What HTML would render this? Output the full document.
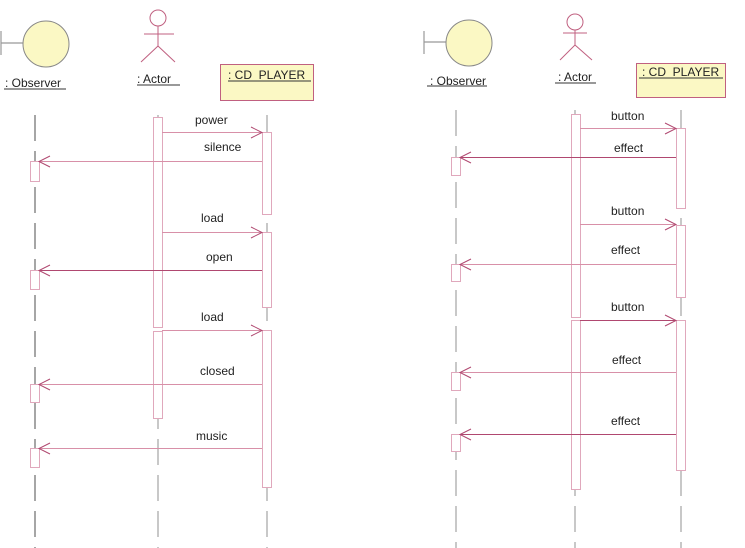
<!DOCTYPE html>
<html><head><style>body{margin:0;background:#fff}svg{display:block}text{font-family:"Liberation Sans",sans-serif;font-size:12px;fill:#222}</style></head><body>
<svg width="745" height="548" viewBox="0 0 745 548">
<g stroke-dasharray="26,10" stroke-width="1.3">
<line x1="35" y1="115" x2="35" y2="548" stroke="#777"/>
<line x1="158" y1="115" x2="158" y2="548" stroke="#aaa"/>
<line x1="267" y1="115" x2="267" y2="548" stroke="#aaa"/>
<line x1="456" y1="110" x2="456" y2="548" stroke="#aaa"/>
<line x1="575" y1="110" x2="575" y2="548" stroke="#aaa"/>
<line x1="681" y1="110" x2="681" y2="548" stroke="#aaa"/>
</g>
<!-- left heads -->
<line x1="1" y1="43" x2="24" y2="43" stroke="#999" stroke-width="1.2"/><line x1="1" y1="31" x2="1" y2="55" stroke="#999" stroke-width="1.2"/>
<circle cx="46" cy="44" r="23" fill="#fbf8c4" stroke="#888"/>
<text x="5" y="87">: Observer</text><line x1="4" y1="89" x2="66" y2="89" stroke="#333"/>
<g stroke="#c06080" fill="none"><circle cx="158" cy="18" r="8"/><line x1="144" y1="34" x2="174" y2="34"/><line x1="158" y1="26" x2="158" y2="46"/><line x1="158" y1="46" x2="141" y2="62"/><line x1="158" y1="46" x2="175" y2="62"/></g>
<text x="137" y="83">: Actor</text><line x1="137" y1="85" x2="180" y2="85" stroke="#333"/>
<rect x="220.5" y="64.5" width="93" height="36" fill="#fbf8c4" stroke="#c06080"/>
<text x="228" y="79">: CD_PLAYER</text><line x1="228" y1="81" x2="311" y2="81" stroke="#333"/>
<!-- right heads -->
<line x1="424" y1="42" x2="446" y2="42" stroke="#999" stroke-width="1.2"/><line x1="424" y1="31" x2="424" y2="54" stroke="#999" stroke-width="1.2"/>
<circle cx="469" cy="43" r="23" fill="#fbf8c4" stroke="#888"/>
<text x="430" y="85">: Observer</text><line x1="427" y1="86" x2="487" y2="86" stroke="#333"/>
<g stroke="#c06080" fill="none"><circle cx="575" cy="22" r="8"/><line x1="563" y1="33" x2="587" y2="33"/><line x1="575" y1="30" x2="575" y2="45"/><line x1="575" y1="45" x2="560" y2="60"/><line x1="575" y1="45" x2="592" y2="60"/></g>
<text x="558" y="81">: Actor</text><line x1="555" y1="83" x2="596" y2="83" stroke="#333"/>
<rect x="636.5" y="63.5" width="89" height="34" fill="#fbf8c4" stroke="#c06080"/>
<text x="642" y="76">: CD_PLAYER</text><line x1="639" y1="78" x2="723" y2="78" stroke="#333"/>
<!-- activations -->
<g fill="#fff" stroke="#e0a8bc">
<rect x="153.5" y="117.5" width="9" height="210"/><rect x="153.5" y="331.5" width="9" height="87"/>
<rect x="262.5" y="132.5" width="9" height="82"/><rect x="262.5" y="232.5" width="9" height="75"/><rect x="262.5" y="330.5" width="9" height="157"/>
<rect x="30.5" y="161.5" width="9" height="20"/><rect x="30.5" y="270.5" width="9" height="19"/><rect x="30.5" y="384.5" width="9" height="18"/><rect x="30.5" y="448.5" width="9" height="19"/>
<rect x="571.5" y="114.5" width="9" height="203"/><rect x="571.5" y="320.5" width="9" height="169"/>
<rect x="676.5" y="128.5" width="9" height="80"/><rect x="676.5" y="225.5" width="9" height="72"/><rect x="676.5" y="320.5" width="9" height="150"/>
<rect x="451.5" y="157.5" width="9" height="18"/><rect x="451.5" y="264.5" width="9" height="17"/><rect x="451.5" y="372.5" width="9" height="18"/><rect x="451.5" y="434.5" width="9" height="17"/>
</g>
<!-- messages -->
<g fill="none" stroke-width="1">
<g stroke="#d890a8">
<line x1="162" y1="132.5" x2="262" y2="132.5"/><line x1="262" y1="161.5" x2="39" y2="161.5"/>
<line x1="162" y1="232.5" x2="262" y2="232.5"/><line x1="162" y1="330.5" x2="262" y2="330.5"/>
<line x1="262" y1="384.5" x2="39" y2="384.5"/><line x1="262" y1="448.5" x2="39" y2="448.5"/>
<line x1="580" y1="128.5" x2="676" y2="128.5"/><line x1="580" y1="224.5" x2="676" y2="224.5"/>
<line x1="676" y1="264.5" x2="460" y2="264.5"/><line x1="676" y1="372.5" x2="460" y2="372.5"/>
</g>
<g stroke="#b04870">
<line x1="262" y1="270.5" x2="39" y2="270.5"/>
<line x1="676" y1="157.5" x2="460" y2="157.5"/><line x1="580" y1="320.5" x2="676" y2="320.5"/><line x1="676" y1="434.5" x2="460" y2="434.5"/>
<polyline points="251,127 262,132.5 251,138"/><polyline points="251,227 262,232.5 251,238"/><polyline points="251,325 262,330.5 251,336"/>
<polyline points="50,156 39,161.5 50,167"/><polyline points="50,265 39,270.5 50,276"/><polyline points="50,379 39,384.5 50,390"/><polyline points="50,443 39,448.5 50,454"/>
<polyline points="665,123 676,128.5 665,134"/><polyline points="665,219 676,224.5 665,230"/><polyline points="665,315 676,320.5 665,326"/>
<polyline points="471,152 460,157.5 471,163"/><polyline points="471,259 460,264.5 471,270"/><polyline points="471,367 460,372.5 471,378"/><polyline points="471,429 460,434.5 471,440"/>
</g>
</g>
<text x="195" y="124">power</text><text x="204" y="151">silence</text><text x="201" y="222">load</text><text x="206" y="261">open</text><text x="201" y="321">load</text><text x="200" y="375">closed</text><text x="196" y="440">music</text>
<text x="611" y="120">button</text><text x="614" y="152">effect</text><text x="611" y="215">button</text><text x="611" y="254">effect</text><text x="611" y="311">button</text><text x="612" y="364">effect</text><text x="611" y="425">effect</text>
</svg>
</body></html>
